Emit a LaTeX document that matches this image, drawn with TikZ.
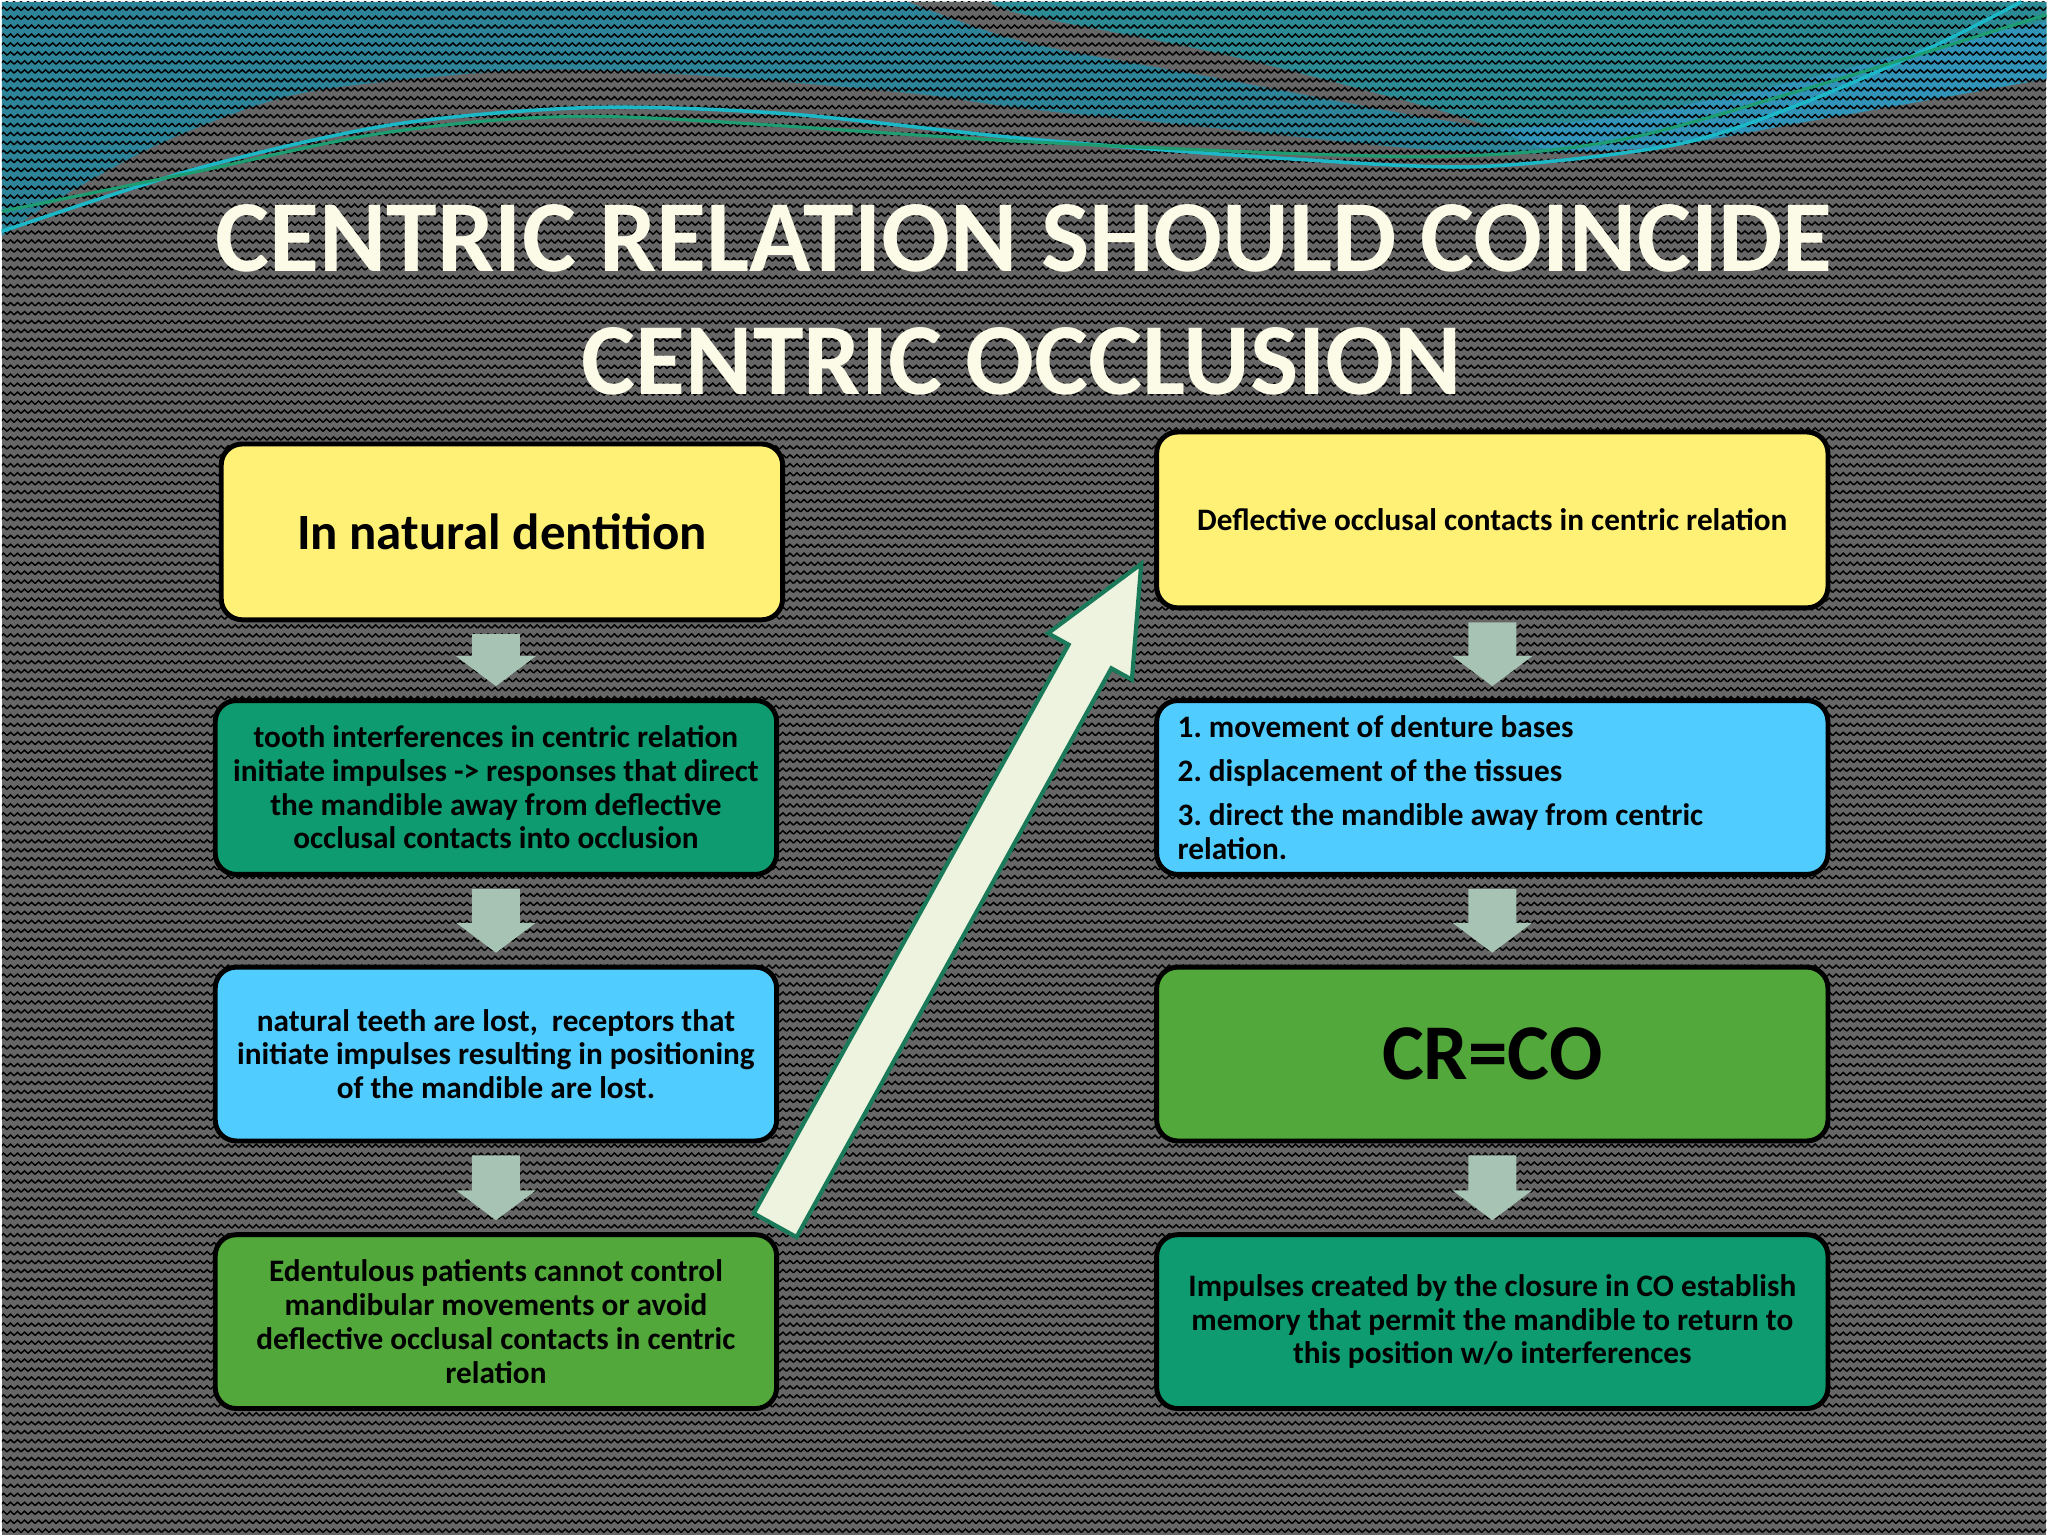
\documentclass[tikz,border=0pt]{standalone}
\usepackage{fontspec}
\setmainfont{Carlito}
\usetikzlibrary{calc,patterns.meta}

\definecolor{bggrey}{HTML}{666666}
\definecolor{wavea}{HTML}{2D8499}
\definecolor{waveb}{HTML}{2C8A94}
\definecolor{wavec}{HTML}{3498C6}
\definecolor{linecyan}{HTML}{1CB8C8}
\definecolor{linegreen}{HTML}{1E9C72}
\definecolor{titlecream}{HTML}{FBFBE8}
\definecolor{boxyellow}{HTML}{FFF176}
\definecolor{boxteal}{HTML}{0E9B70}
\definecolor{boxblue}{HTML}{50CCFF}
\definecolor{boxgreen}{HTML}{52A83A}
\definecolor{sage}{HTML}{A7C3B4}
\definecolor{bigfill}{HTML}{EEF3E0}
\definecolor{bigedge}{HTML}{1B7A5A}

\pgfdeclarepattern{
  name=zigzagbg,
  type=uncolored,
  bottom left={\pgfpoint{-.2pt}{-.2pt}},
  top right={\pgfpoint{2.2pt}{2.75pt}},
  tile size={\pgfpoint{2pt}{2.55pt}},
  code={
    \pgfsetlinewidth{.42pt}
    \pgfpathmoveto{\pgfpoint{0pt}{.8pt}}
    \pgfpathlineto{\pgfpoint{1pt}{1.75pt}}
    \pgfpathlineto{\pgfpoint{2pt}{.8pt}}
    \pgfusepath{stroke}
  }
}

\tikzset{
  box/.style={draw=black, line width=1.4pt, rounded corners=6pt, align=center,
    text=black, minimum width=5.62cm, minimum height=1.74cm,
    font=\bfseries\fontsize{8.9}{9.6}\selectfont},
  rbox/.style={box, minimum width=6.72cm},
  titletext/.style={text=titlecream, font=\bfseries\fontsize{29.1}{34}\selectfont},
  bigarrow/.style={fill=bigfill, draw=bigedge, line width=1.2pt, line join=miter}
}

\newcommand{\blockdown}[2]{%
  \coordinate (tip) at ($(#2.north)+(0,-12)$);
  \coordinate (top0) at ($(#1.south)+(0,12)$);
  \coordinate (top) at (top0 -| tip);
  \fill[sage] ($(top)+(-24,0)$) -- ($(top)+(24,0)$) -- ($(tip)+(24,-30)$) -- ($(tip)+(40,-30)$)
    -- (tip) -- ($(tip)+(-40,-30)$) -- ($(tip)+(-24,-30)$) -- cycle;
}

\frenchspacing

\begin{document}
\begin{tikzpicture}[x=0.01cm,y=-0.01cm]

\fill[bggrey] (0,0) rectangle (2048,1536);

% waves at the top
\fill[wavea] (0,0) -- (2048,0) -- plot[smooth] coordinates {(2048,77) (1938,97) (1808,120) (1677,143) (1546,152)
  (1416,147) (1220,127) (1024,107) (914,92) (718,75) (568,68) (457,73) (294,93) (163,140) (52,200) (0,235)} -- cycle;
\fill[waveb] (990,0) -- (2048,0) -- (2048,77)
  -- plot[smooth] coordinates {(2048,77) (1938,97) (1808,120) (1677,143) (1560,148) (1494,126)}
  -- plot[smooth] coordinates {(1494,126) (1416,102) (1220,52) (1024,13) (990,0)} -- cycle;
\fill[wavec, opacity=.7] plot[smooth] coordinates {(1500,128) (1640,112) (1808,77) (1950,40) (2048,20)}
  -- (2048,77) -- plot[smooth] coordinates {(2048,77) (1938,97) (1808,120) (1677,143) (1560,150) (1500,128)} -- cycle;
\fill[bggrey] plot[smooth] coordinates {(908,0) (1024,40) (1220,77) (1416,114) (1494,126)}
  -- plot[smooth] coordinates {(1494,126) (1416,102) (1220,52) (1024,13) (990,0)} -- cycle;

\fill[pattern=zigzagbg, pattern color=black] (0,0) rectangle (2048,1536);

\draw[linecyan, line width=1pt] plot[smooth] coordinates {(0,230) (196,167) (392,123) (588,106) (784,112) (1024,137)
  (1285,157) (1481,165) (1677,143) (1808,100) (1938,43) (2023,0)};
\draw[linegreen, line width=.9pt] plot[smooth] coordinates {(0,210) (196,170) (392,130) (607,115) (1024,140)
  (1416,155) (1612,140) (1808,87) (2048,13)};

\node[titletext, anchor=base] (title1) at (1024,270) {CENTRIC RELATION SHOULD COINCIDE};
\node[titletext, anchor=base] (title2) at (1022,393) {CENTRIC OCCLUSION};

\node[box, fill=boxyellow, minimum width=5.62cm, minimum height=1.76cm, font=\bfseries\fontsize{14.5}{17}\selectfont] (l1) at (501,531) {In natural dentition};
\node[box, fill=boxteal] (l2) at (495,787) {tooth interferences in centric relation\\ initiate impulses -> responses that direct\\ the mandible away from deflective\\ occlusal contacts into occlusion};
\node[box, fill=boxblue] (l3) at (495,1054) {natural teeth are lost,\ \ receptors that\\ initiate impulses resulting in positioning\\ of the mandible are lost.};
\node[box, fill=boxgreen] (l4) at (495,1322) {Edentulous patients cannot control\\ mandibular movements or avoid\\ deflective occlusal contacts in centric\\ relation};

\node[rbox, fill=boxyellow, minimum height=1.76cm] (r1) at (1493,519) {Deflective occlusal contacts in centric relation};
\node[rbox, fill=boxblue, align=flush left, text width=6.3cm] (r2) at (1493,787) {1. movement of denture bases\\[3pt] 2. displacement of the tissues\\[3pt] 3. direct the mandible away from centric\\ relation.};
\node[rbox, fill=boxgreen, font=\bfseries\fontsize{22.5}{26}\selectfont] (r3) at (1493,1054) {CR=CO};
\node[rbox, fill=boxteal] (r4) at (1493,1322) {Impulses created by the closure in CO establish\\ memory that permit the mandible to return to\\ this position w/o interferences};

\foreach \a/\b in {l1/l2,l2/l3,l3/l4,r1/r2,r2/r3,r3/r4}
{\blockdown{\a}{\b}}

% big arrow from the last left box up to the first right box
\coordinate (bigtail) at ($(l4.north east)+(-4,-7)$);
\coordinate (bigtip) at ($(r1.west)+(-13,44)$);
\coordinate (hb) at ($(bigtip)!1.06cm!(bigtail)$);
\draw[bigarrow] ($(bigtail)!0.245cm!90:(bigtip)$) -- ($(hb)!0.245cm!90:(bigtip)$) -- ($(hb)!0.48cm!90:(bigtip)$)
  -- (bigtip) -- ($(hb)!0.48cm!-90:(bigtip)$) -- ($(hb)!0.245cm!-90:(bigtip)$) -- ($(bigtail)!0.245cm!-90:(bigtip)$) -- cycle;

\end{tikzpicture}
\end{document}
